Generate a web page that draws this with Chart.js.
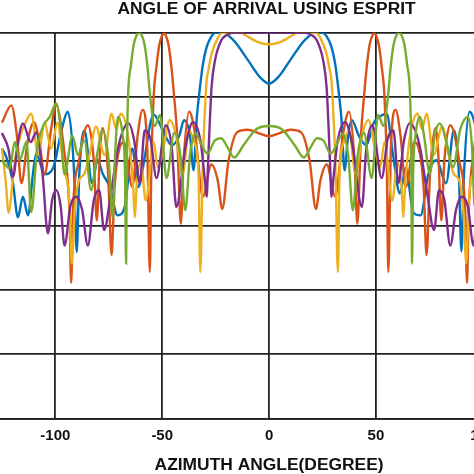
<!DOCTYPE html>
<html>
<head>
<meta charset="utf-8">
<script src="https://cdn.jsdelivr.net/npm/chart.js@4.4.1/dist/chart.umd.min.js"></script>
<style>
  html, body { margin: 0; padding: 0; background: #fff; overflow: hidden; width: 474px; height: 474px; }
  .chart-wrap { position: absolute; left: -60px; top: 0; width: 659px; height: 474px; }
</style>
</head>
<body>
<div class="chart-wrap"><canvas id="espritChart"></canvas></div>
<script>
// --- Data (angle in degrees, level in dB) ---
const xTicks = [-100, -50, 0, 50, 100];

const angleBlue = [-125, -123, -120, -117.5, -115.2, -112.8, -110.5, -109, -105, -101, -97, -94.2, -91.2, -90, -88.8, -86.4, -82.8, -80.2, -77.9, -74.5, -70.9, -67.5, -64, -61.2, -58, -55.5, -53.8, -50, -45.5, -42, -39.8, -37, -35.3, -33.9, -32.3, -31, -29.2, -27, -25.1, -20.5, -19.1, -16, -9.8, -4.3, 0,
  4.3, 9.8, 16, 19.1, 20.5, 25.1, 27, 29.2, 31, 32.3, 33.9, 35.3, 37, 38.7, 42, 45.5, 49, 52, 55, 58, 61.2, 64, 67.5, 70.9, 74.5, 78.3, 82.8, 86.5, 88.8, 90, 91.2, 93.8, 97, 101, 105, 108, 110.5, 112.8, 115.2, 117.5, 120, 123, 125];
const levelBlue = [-18, -19.3, -23, -28.7, -25.5, -28.4, -22, -18.8, -22, -21, -15, -12.3, -22, -34.1, -22, -15.2, -23.4, -19.8, -21.9, -24, -28.4, -27, -18, -24, -19, -14, -12.8, -15, -17.5, -16, -13.6, -16, -21.4, -13.6, -8.4, -5, -2.2, -0.6, 0, 0, -0.4, -1.4, -4.3, -6.9, -7.9,
  -6.9, -4.3, -1.4, -0.4, 0, 0, -0.6, -2.2, -5, -8.4, -13.6, -21.4, -16, -13.6, -16, -17.5, -14, -13, -12.6, -19, -25, -21, -28, -28.4, -22, -19.8, -23.4, -15.2, -22, -34, -22, -12.3, -15, -22, -18, -24, -22, -28.4, -25.5, -28.7, -23, -19.3, -18];

const angleOrange = [-125, -120.6, -118, -115.9, -113, -110, -107.5, -105, -102, -99.6, -96, -93.4, -92.6, -91.8, -89, -84.8, -82, -80.6, -79.2, -77.9, -75.3, -73.7, -72.3, -68, -64, -61.5, -59.2, -57, -55.8, -55.1, -54, -52.6, -51.3, -50, -49.2, -48.4, -47.1, -45.8, -44.4, -43, -41.3, -40, -37.4, -34.5, -31, -27, -24, -21.9, -19, -15, -10, -5, 0,
  5, 10, 15, 19, 21.9, 24, 27, 31, 34.5, 37.4, 40, 41.3, 43, 44.4, 45.8, 47.1, 48.4, 49.2, 50, 51.3, 52.6, 54, 55.1, 55.8, 57, 59.2, 61.5, 64, 68, 72.3, 73.7, 75.3, 77.9, 79.2, 80.6, 82, 84.8, 89, 91.8, 92.6, 93.4, 96, 99.6, 102, 105, 107.5, 110, 113, 115.9, 118, 120.6, 125];
const levelOrange = [-14, -11.3, -16, -23.4, -17, -13.9, -17, -22, -15, -11.3, -18, -28, -38.9, -28, -20, -14.4, -20, -29.2, -19, -14.8, -22, -34.6, -24, -17, -24, -16, -12, -18, -37.2, -21, -10, -5, -1.8, -0.4, 0, -0.4, -1.8, -5, -10, -16, -29.7, -20, -12.3, -16, -25.5, -20.5, -23, -27.4, -20, -15.5, -15.1, -15.6, -16.1,
  -15.6, -15.1, -15.5, -20, -27.4, -23, -20.5, -25.5, -16, -12.3, -20, -29.7, -16, -10, -5, -1.8, -0.4, 0, -0.4, -1.8, -5, -10, -21, -37.2, -18, -12, -16, -24, -17, -24, -34.6, -22, -14.8, -19, -29.2, -20, -14.4, -20, -28, -38.9, -28, -18, -11.3, -15, -22, -17, -13.9, -17, -23.4, -16, -11.3, -14];

const angleYellow = [-125, -123, -122, -119, -116, -114, -111.3, -108, -105, -102, -99, -96.2, -93.5, -92.3, -91, -89, -86.5, -84, -81, -77, -73.7, -71.5, -69.5, -66, -63.6, -62.8, -62, -60, -57.7, -54, -52, -49.5, -46.5, -43.5, -40.5, -37.4, -35, -33, -32.2, -31, -30, -29.2, -28.5, -26.8, -24, -22, -13, -11, -8, -4, 0,
  4, 8, 11, 13, 22, 24, 26.8, 28.5, 29.2, 30, 31, 32.2, 33, 35, 37.4, 40.5, 43.5, 46.5, 49.5, 52, 54, 57.7, 60, 62, 62.8, 63.6, 66, 69.5, 71.5, 73.7, 77, 81, 84, 86.5, 89, 91, 92.3, 93.5, 96.2, 99, 102, 105, 108, 111.3, 114, 116, 119, 122, 123, 125];
const levelYellow = [-18, -24, -28, -20, -15.6, -14, -12.6, -19, -14, -18, -14, -20.9, -26, -35.9, -28, -23, -22, -19, -14.6, -19, -12.6, -15, -12.6, -16, -24, -28.7, -24, -20, -26.1, -17, -21, -18, -13.6, -16, -22, -15.2, -17, -22, -37.2, -20, -12, -7.4, -6, -3.2, -0.8, 0, 0, -0.4, -1, -1.6, -1.8,
  -1.6, -1, -0.4, 0, 0, -0.8, -3.2, -6, -7.4, -12, -20, -37.2, -22, -17, -15.2, -22, -16, -13.6, -18, -21, -17, -26.1, -20, -24, -28.7, -24, -16, -12.6, -15, -12.6, -19, -14.6, -19, -22, -23, -28, -35.9, -26, -20.9, -14, -18, -14, -19, -12.6, -14, -15.6, -20, -28, -24, -18];

const anglePurple = [-125, -122, -119.8, -117.5, -115.2, -111.5, -109, -106, -103.5, -101.5, -99.6, -97.5, -95.7, -93, -90.3, -87.5, -84.8, -82, -79.5, -77.2, -74, -70.4, -65.8, -63, -60.5, -58.2, -55.5, -52.7, -48.3, -45.5, -43.4, -39, -35.6, -32, -30, -29.2, -28.5, -27.7, -26.9, -25.3, -22.2, -20, -17, 0,
  17, 20, 22.2, 25.3, 26.9, 27.7, 28.5, 29.2, 30, 32, 35.6, 39, 43.4, 45.5, 48.3, 52.7, 55.5, 58.2, 60.5, 63, 65.8, 70.4, 74, 77.2, 79.5, 82, 84.8, 87.5, 90.3, 93, 95.7, 97.5, 99.6, 101.5, 103.5, 106, 109, 111.5, 115.2, 117.5, 119.8, 122, 125];
const levelPurple = [-15.6, -18, -22.4, -17, -14.1, -17, -15.5, -22, -31.2, -26, -24.5, -27, -33.1, -27, -25.5, -27.5, -33.1, -26, -24.5, -30.7, -25, -17.5, -14.1, -17, -23.4, -15.2, -16.5, -22.6, -14.4, -18, -27.1, -17.5, -13.9, -17, -23, -25.5, -20, -13.6, -8.4, -4.3, -1.1, -0.4, 0, 0,
  0, -0.4, -1.1, -4.3, -8.4, -13.6, -20, -25.5, -23, -17, -13.9, -17.5, -27.1, -18, -14.4, -22.6, -16.5, -15.2, -23.4, -17, -14.1, -17.5, -25, -30.7, -24.5, -26, -33.1, -27.5, -25.5, -27, -33.1, -27, -24.5, -26, -31.2, -22, -15.5, -17, -14.1, -17, -22.4, -18, -15.6];

const angleGreen = [-125, -121.4, -119, -116.7, -113.5, -111.3, -108.5, -105.8, -102.5, -99.6, -97.5, -95.7, -92, -89.5, -86.4, -83.3, -80.5, -77.9, -75, -73.2, -72.2, -70.7, -68.5, -67.4, -66.9, -66.5, -66, -64.6, -63.3, -62, -60.8, -59.6, -58.3, -57, -55.6, -53.5, -51, -48, -44.4, -41.5, -39.2, -37, -34.4, -31.5, -28.8, -25.5, -22.4, -19.5, -16.3, -12, -6, 0,
  6, 12, 16.3, 19.5, 22.4, 25.5, 28.8, 31.5, 34.4, 37, 39.2, 41.5, 44.4, 48, 51, 53.5, 55.6, 57, 58.3, 59.6, 60.8, 62, 63.3, 64.6, 66, 66.5, 66.9, 67.4, 68.5, 70.7, 72.5, 75.2, 77.5, 79.9, 83, 86.1, 89.5, 93.1, 95, 96.2, 98, 100, 103, 106, 111, 116, 121, 125];
const levelGreen = [-19.8, -21.1, -17, -19.8, -17, -27.9, -18, -14.6, -13, -11, -15, -22, -16, -19, -16.7, -24.5, -19, -15.2, -20, -28.7, -20, -13.1, -16, -22, -35.9, -18, -10, -5, -1.8, -0.4, 0, -0.4, -1.8, -5, -10, -14.5, -12.8, -22.6, -15.6, -19, -27.6, -19, -15.7, -17.5, -18.8, -16.8, -16.4, -17.8, -19.4, -17.5, -15, -14.5,
  -15, -17.5, -19.4, -17.8, -16.4, -16.8, -18.8, -17.5, -15.7, -19, -27.6, -19, -15.6, -22.6, -12.8, -14.5, -10, -5, -1.8, -0.4, 0, -0.4, -1.8, -5, -10, -18, -35.9, -22, -16, -13.1, -16, -21.9, -16, -14.1, -17, -20.9, -15, -13.1, -18, -27.1, -20, -12, -14, -16, -27, -19.8, -21, -19.8];

const seriesColors = ['#0072BD', '#D95319', '#EDB120', '#7E2F8E', '#77AC30'];

document.addEventListener('DOMContentLoaded', () => {
    const pairs = (xs, ys) => xs.map((x, i) => ({ x: x, y: ys[i] }));

    const series = [
        { label: 'Source 1', data: pairs(angleBlue, levelBlue), order: 5 },
        { label: 'Source 2', data: pairs(angleOrange, levelOrange), order: 4 },
        { label: 'Source 3', data: pairs(angleYellow, levelYellow), order: 3 },
        { label: 'Source 4', data: pairs(anglePurple, levelPurple), order: 2 },
        { label: 'Source 5', data: pairs(angleGreen, levelGreen), order: 1 }
    ];

    const gridColor = '#222';
    const fontFamily = "'Liberation Sans', Arial, Helvetica, sans-serif";

    const ctx = document.getElementById('espritChart').getContext('2d');
    new Chart(ctx, {
        type: 'line',
        data: {
            datasets: series.map((s, i) => ({
                label: s.label,
                data: s.data,
                order: s.order,
                borderColor: seriesColors[i],
                borderWidth: 2.4,
                pointRadius: 0,
                fill: false,
                cubicInterpolationMode: 'monotone'
            }))
        },
        options: {
            responsive: true,
            maintainAspectRatio: false,
            animation: false,
            layout: { padding: { left: 3.55, right: 9.35, top: 0, bottom: 0 } },
            plugins: {
                legend: { display: false },
                tooltip: { enabled: false },
                title: {
                    display: true,
                    text: 'ANGLE OF ARRIVAL USING ESPRIT',
                    color: '#111',
                    font: { family: fontFamily, size: 17.4, weight: 'bold', lineHeight: 1 },
                    padding: { top: 1, bottom: 14.3 }
                }
            },
            scales: {
                x: {
                    type: 'linear',
                    min: -150,
                    max: 150,
                    afterBuildTicks: axis => {
                        axis.ticks = [-150].concat(xTicks, [150]).map(v => ({ value: v }));
                    },
                    ticks: {
                        color: '#111',
                        padding: 8.5,
                        maxRotation: 0,
                        font: { family: fontFamily, size: 15, weight: 'bold' },
                        callback: v => (xTicks.includes(v) ? String(v) : '')
                    },
                    grid: { color: gridColor, lineWidth: 1.8, drawTicks: false },
                    border: { color: gridColor, width: 1.8 },
                    title: {
                        display: true,
                        text: 'AZIMUTH ANGLE(DEGREE)',
                        color: '#111',
                        font: { family: fontFamily, size: 17.4, weight: 'bold', lineHeight: 1 },
                        padding: { top: 3, bottom: 0 }
                    }
                },
                y: {
                    min: -60,
                    max: 0,
                    ticks: { display: false, stepSize: 10 },
                    grid: { color: gridColor, lineWidth: 1.8, drawTicks: false },
                    border: { color: gridColor, width: 1.8 }
                }
            }
        }
    });
});
</script>
</body>
</html>
